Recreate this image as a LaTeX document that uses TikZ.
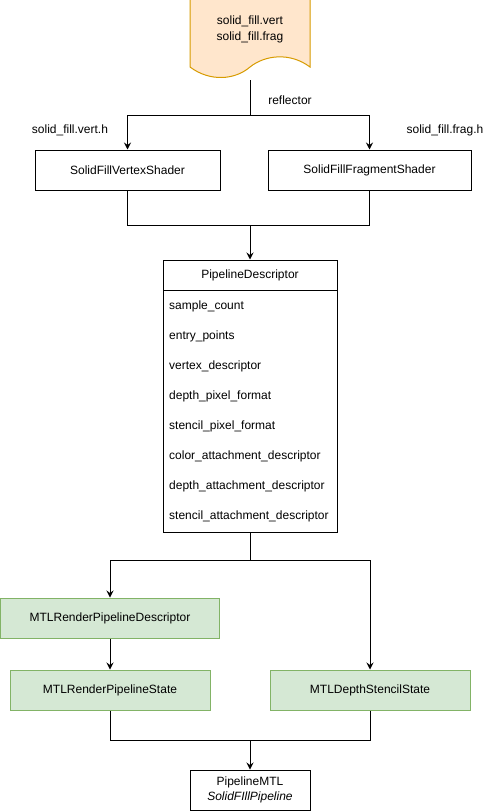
\documentclass[tikz,border=0pt]{standalone}
\usepackage{fontspec}
\setmainfont{Liberation Sans}
\usetikzlibrary{arrows.meta}
\definecolor{docfill}{HTML}{FFE6CC}
\definecolor{docdraw}{HTML}{D79B00}
\definecolor{gfill}{HTML}{D5E8D4}
\definecolor{gdraw}{HTML}{82B366}
\begin{document}
\begin{tikzpicture}[x=1pt,y=-1pt,
  every node/.style={font=\fontsize{12}{14}\selectfont, inner sep=0pt},
  box/.style={draw=black, line width=1pt, fill=white, rectangle, minimum height=40pt, align=center},
  gbox/.style={box, draw=gdraw, fill=gfill},
  conn/.style={line width=1pt, draw=black},
  arr/.style={conn, -{Stealth[length=7pt,width=7pt,inset=2.5pt]}},
  rowtxt/.style={anchor=west},
  lbl/.style={}]
\useasboundingbox (0,0) rectangle (491,811);
% document shape
\draw[draw=docdraw, fill=docfill, line width=1pt]
  (190,67) -- (190,-5) -- (310,-5) -- (310,67)
  .. controls (290,52) and (265,55) .. (250,67)
  .. controls (235,80) and (210,82) .. (190,67) -- cycle;
\node[align=center] (doc) at (250,29) {solid\_fill.vert\\[2pt]solid\_fill.frag};
\coordinate (docout) at (250,80);
\coordinate (j1) at (250,115);
\node[lbl] (refl) at (290,100) {reflector};
\node[lbl] (lv) at (70,130) {solid\_fill.vert.h};
\node[lbl] (lf) at (445,130) {solid\_fill.frag.h};
% shaders
\node[box, minimum width=185pt] (vs) at (127.5,170) {SolidFillVertexShader};
\node[box, minimum width=203pt] (fs) at (369.5,170) {SolidFillFragmentShader};
\coordinate (j2) at (250,225);
% pipeline descriptor
\node[box, minimum width=174pt, minimum height=30pt] (pdh) at (250,275) {PipelineDescriptor};
\node[box, minimum width=174pt, minimum height=242pt] (pdb) at (250,411) {};
\node[rowtxt] (r1) at (169,306) {sample\_count};
\node[rowtxt] (r2) at (169,336) {entry\_points};
\node[rowtxt] (r3) at (169,366) {vertex\_descriptor};
\node[rowtxt] (r4) at (169,396) {depth\_pixel\_format};
\node[rowtxt] (r5) at (169,426) {stencil\_pixel\_format};
\node[rowtxt] (r6) at (169,456) {color\_attachment\_descriptor};
\node[rowtxt] (r7) at (169,486) {depth\_attachment\_descriptor};
\node[rowtxt] (r8) at (169,516) {stencil\_attachment\_descriptor};
\coordinate (j3) at (250,560);
% metal objects
\node[gbox, minimum width=219pt] (mrpd) at (110,618) {MTLRenderPipelineDescriptor};
\node[gbox, minimum width=200pt] (mrps) at (110,690) {MTLRenderPipelineState};
\node[gbox, minimum width=200pt] (mds) at (370,690) {MTLDepthStencilState};
\coordinate (j4) at (250,740);
\node[box, minimum width=120pt] (pmtl) at (250,790) {PipelineMTL\\[1pt]\textit{SolidFIllPipeline}};
% connectors
\draw[conn] (docout) -- (j1);
\draw[arr] (j1) -| (vs.north);
\draw[arr] (j1) -| (fs.north);
\draw[conn] (vs.south) |- (j2);
\draw[conn] (fs.south) |- (j2);
\draw[arr] (j2) -- (pdh.north);
\draw[conn] (pdb.south) -- (j3);
\draw[arr] (j3) -| (mrpd.north);
\draw[arr] (j3) -| (mds.north);
\draw[arr] (mrpd.south) -- (mrps.north);
\draw[conn] (mrps.south) |- (j4);
\draw[conn] (mds.south) |- (j4);
\draw[arr] (j4) -- (pmtl.north);
\end{tikzpicture}
\end{document}
